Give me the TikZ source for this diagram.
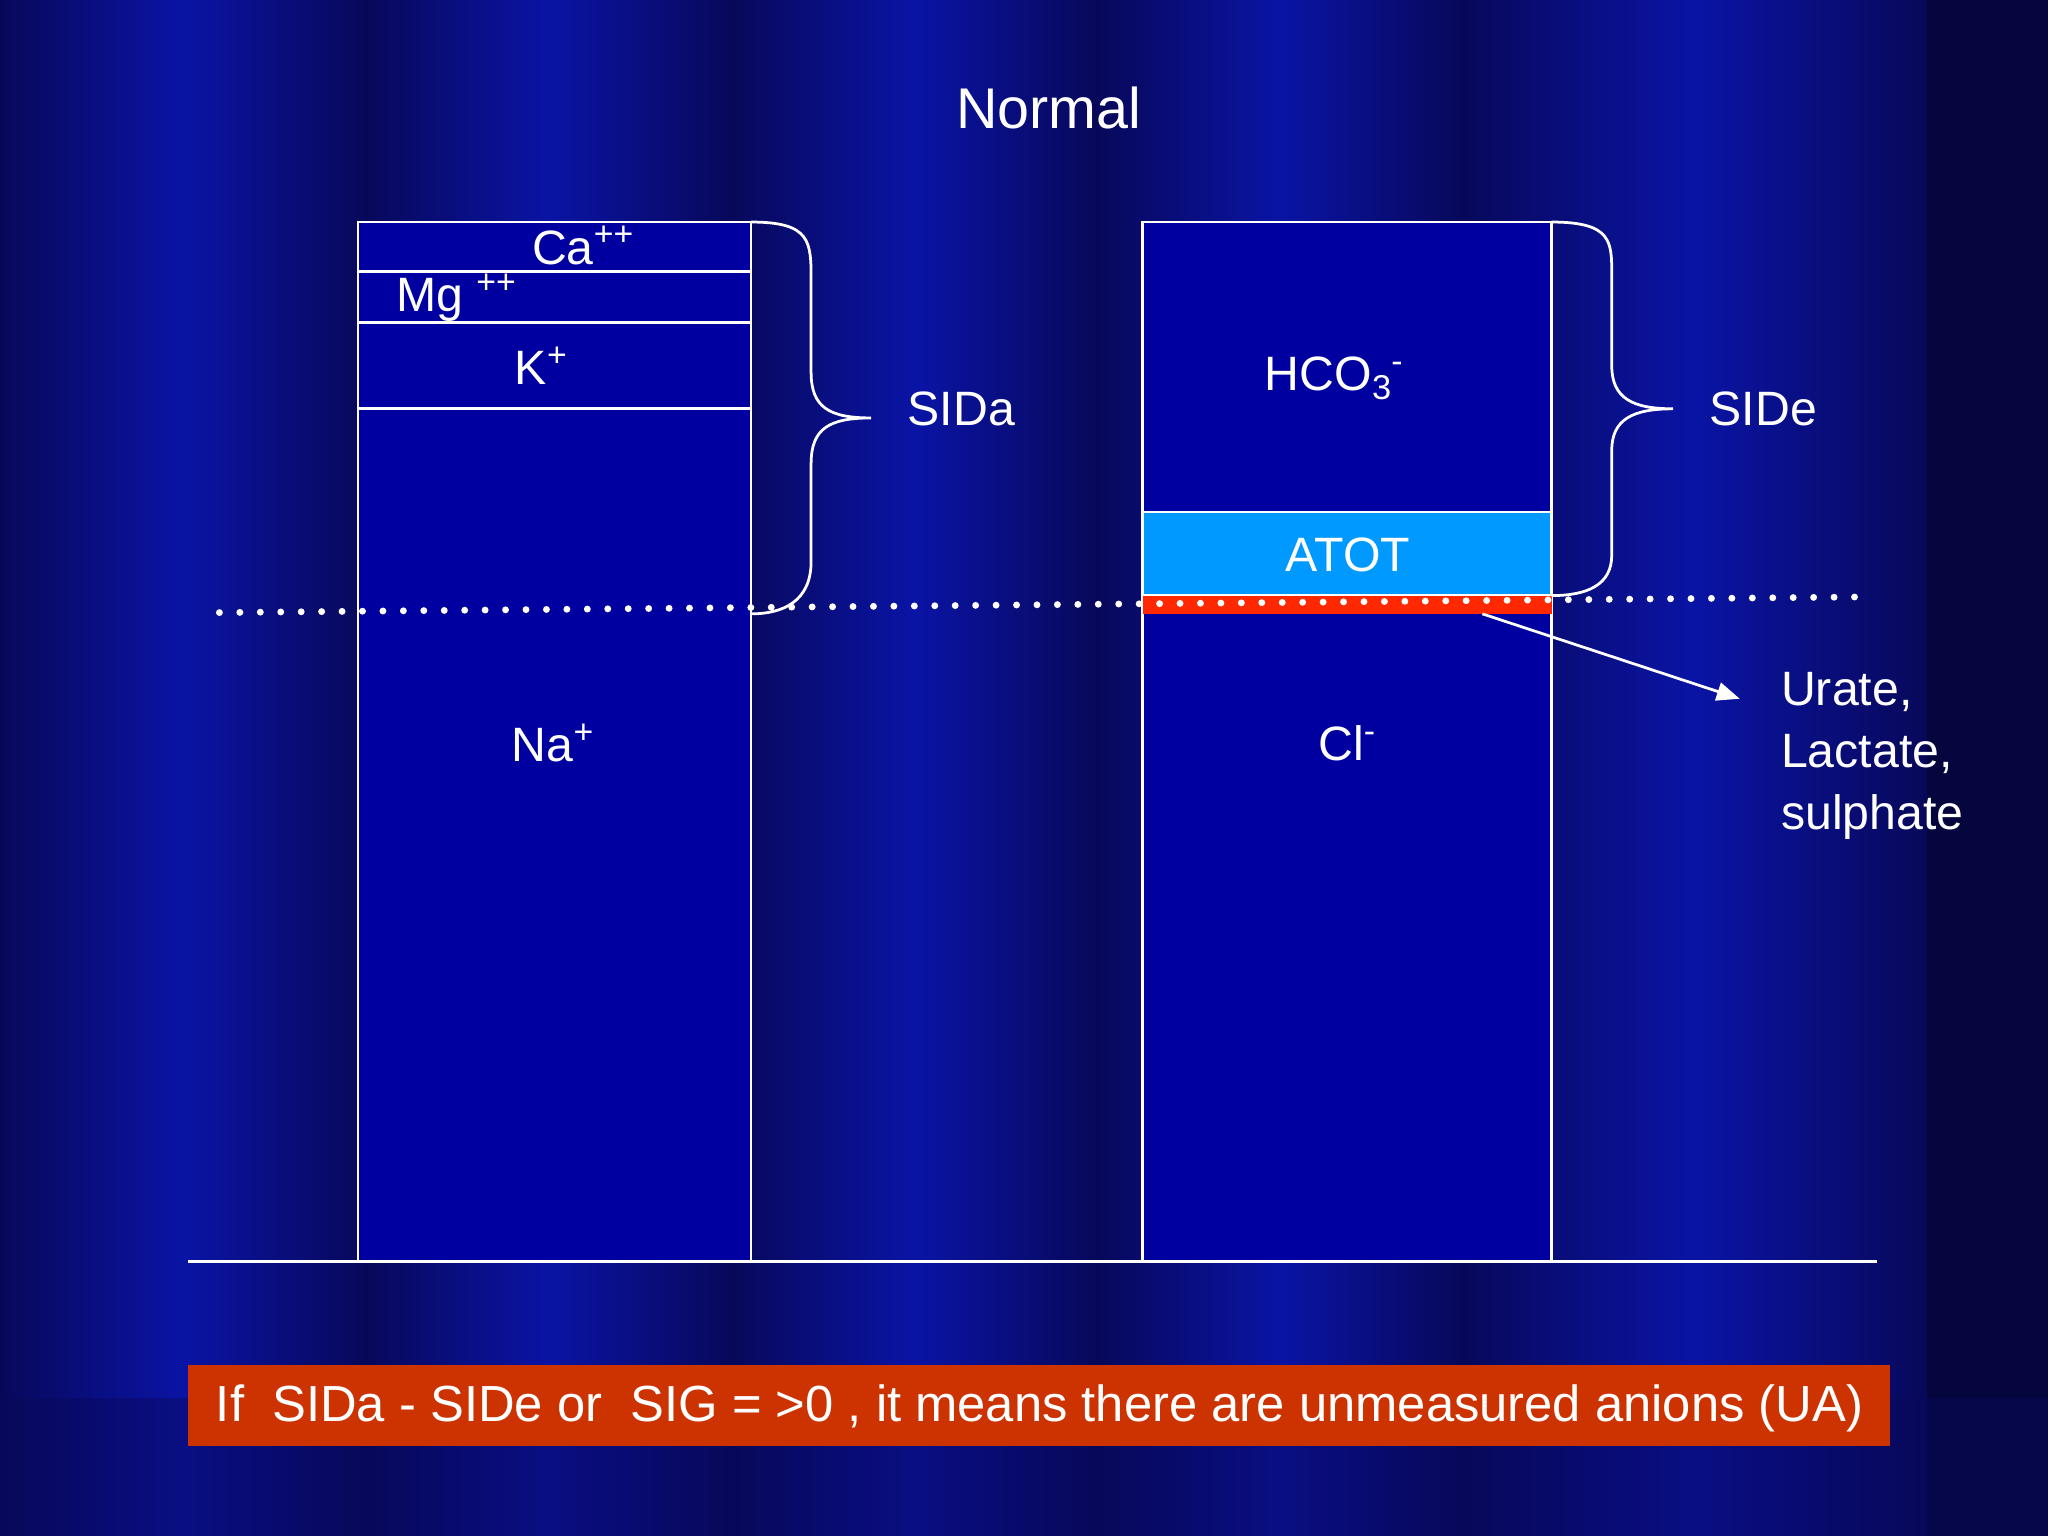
\documentclass[tikz,border=0pt]{standalone}
\usepackage{fontspec}
\setmainfont{Liberation Sans}
\usetikzlibrary{arrows.meta}
\definecolor{colfill}{RGB}{0,0,160}
\definecolor{bgdark}{RGB}{8,8,90}
\definecolor{bgmid}{RGB}{10,20,165}
\definecolor{atot}{RGB}{0,153,255}
\definecolor{redstrip}{RGB}{255,40,0}
\definecolor{redbox}{RGB}{204,51,0}
\newcommand{\sups}[1]{\textsuperscript{#1}}
\newcommand{\subs}[1]{\raisebox{-0.35ex}{\fontsize{7.5}{8}\selectfont #1}}
\tikzset{
  col/.style={draw=white, fill=colfill, line width=0.6pt},
  lab/.style={text=white, font=\fontsize{10.5}{12}\selectfont, inner sep=0pt},
  wline/.style={draw=white, line width=0.6pt}
}
\begin{document}
\begin{tikzpicture}[x=0.01cm,y=-0.01cm]
\useasboundingbox (0,0) rectangle (1568,1176);
% background curtain
\fill[bgdark] (0,0) rectangle (1568,1176);
\foreach \a/\b in {0/280,280/560,560/840,840/1120,1120/1475}{
  \shade[left color=bgdark, right color=bgdark, middle color=bgmid] (\a,0) rectangle (\b,1176);
}
\fill[black!30!bgdark] (1475,0) rectangle (1568,1176);
\fill[bgdark, opacity=0.45] (0,1070) rectangle (1568,1176);
% title
\node[lab, font=\fontsize{12.5}{14}\selectfont] (title) at (803,83) {Normal};
% left column
\draw[col] (274,170) rectangle (575,966);
\draw[wline] (274,208) -- (575,208) (274,247) -- (575,247) (274,313) -- (575,313);
\node[lab] (ca) at (447,188) {Ca\sups{++}};
\node[lab] (mg) at (350,228) {Mg \sups{++}};
\node[lab] (k) at (415,280) {K\sups{+}};
\node[lab] (na) at (424,569) {Na\sups{+}};
% right column
\draw[col] (875,170) rectangle (1188,966);
\draw[wline, fill=atot] (875,392) rectangle (1188,456);
\fill[redstrip] (875,456) rectangle (1188,470);
\node[lab] (hco) at (1022,290) {HCO\subs{3}\sups{-}};
\node[lab] (atotl) at (1032,425) {ATOT};
\node[lab] (cl) at (1032,569) {Cl\sups{-}};
% braces
\draw[wline] (575,170) .. controls (621,170) and (621,185) .. (621,215) -- (621,285)
  .. controls (621,312) and (635,320) .. (667,320)
  .. controls (635,320) and (621,328) .. (621,355) -- (621,430)
  .. controls (621,460) and (600,470) .. (575,470);
\node[lab] (sida) at (736,313) {SIDa};
\draw[wline] (1188,170) .. controls (1234,170) and (1234,185) .. (1234,210) -- (1234,280)
  .. controls (1234,305) and (1250,313) .. (1281,313)
  .. controls (1250,313) and (1234,321) .. (1234,345) -- (1234,425)
  .. controls (1234,448) and (1215,456) .. (1188,456);
\node[lab] (side) at (1350,313) {SIDe};
% dotted line
\coordinate (d1) at (168,469);
\coordinate (d2) at (1430,457);
\draw[white, line width=1.5pt, line cap=round, dash pattern=on 0pt off 4.45pt] (d1) -- (d2);
% arrow
\coordinate (as) at (1135,470);
\node[lab, align=left, anchor=north west, font=\fontsize{10.5}{13.5}\selectfont] (urate) at (1363,514) {Urate,\\Lactate,\\sulphate};
\coordinate (ae) at (1332,535);
\draw[wline, -{Triangle[length=5pt,width=4pt]}] (as) -- (ae);
% base line
\coordinate (b1) at (144,966);
\coordinate (b2) at (1437,966);
\draw[wline] (b1) -- (b2);
% bottom box
\node[fill=redbox, minimum width=13.03cm, minimum height=0.62cm, inner sep=0pt] (note) at (795.5,1076) {};
\node[text=white, inner sep=0pt, font=\fontsize{11.05}{12}\selectfont] (notetext) at (796,1078)
  {If~ SIDa - SIDe or~ SIG = >0 , it means there are unmeasured anions (UA)};
\end{tikzpicture}
\end{document}
